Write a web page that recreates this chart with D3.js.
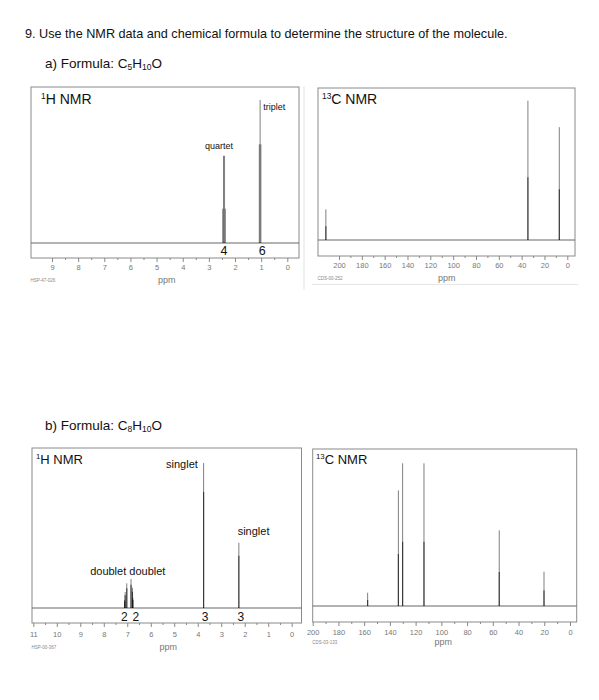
<!DOCTYPE html>
<html><head><meta charset="utf-8">
<script src="https://cdn.jsdelivr.net/npm/d3@7"></script>
<style>body{margin:0;background:#fff} svg{display:block;font-family:"Liberation Sans",Arial,sans-serif}</style>
</head><body><svg id="c" width="599" height="700"></svg>
<script>
// ---------- DATA ----------
// (a) 1H NMR, C5H10O
const hA_ppm = [2.47, 2.44, 2.40, 2.37, 1.07, 1.04, 1.01];
const hA_int = [24, 61, 61, 24, 69, 100, 69];
const hA_ticks = [9, 8, 7, 6, 5, 4, 3, 2, 1, 0];
const hA_integrals = ["4", "6"];
const hA_integralPpm = [2.42, 0.96];
const hA_mult = ["quartet", "triplet"];
const hA_multPpm = [2.61, 0.92];
const hA_multInt = [65.5, 93];
const hA_multAnchor = ["middle", "start"];

// (a) 13C NMR
const cA_ppm = [211.5, 34.5, 7.0];
const cA_int = [22, 100, 81];
const cA_ticks = [200, 180, 160, 140, 120, 100, 80, 60, 40, 20, 0];

// (b) 1H NMR, C8H10O
const hB_ppm = [7.11, 7.09, 7.02, 6.84, 6.78, 6.76, 3.75, 2.25];
const hB_int = [5.5, 11, 17, 20, 14, 7, 100, 45];
const hB_ticks = [11, 10, 9, 8, 7, 6, 5, 4, 3, 2, 1, 0];
const hB_integrals = ["2", "2", "3", "3"];
const hB_integralPpm = [7.12, 6.63, 3.69, 2.17];
const hB_mult = ["doublet doublet", "singlet", "singlet"];
const hB_multPpm = [8.58, 5.35, 2.30];
const hB_multInt = [22.5, 96.3, 50.3];

// (b) 13C NMR
const cB_ppm = [157.3, 133.4, 130.1, 113.5, 55.0, 20.2];
const cB_int = [9.3, 81, 100, 100, 53, 24];
const cB_ticks = [200, 180, 160, 140, 120, 100, 80, 60, 40, 20, 0];

// ---------- DRAW ----------
const svg = d3.select("#c");
const FRAME = "#8a8a8a", TICKC = "#888";

// Title
const title = svg.append("text").attr("x", 25).attr("y", 38)
  .attr("font-size", 13).attr("fill", "#111")
  .text("9. Use the NMR data and chemical formula to determine the structure of the molecule.");
const tl = title.node().getComputedTextLength();
title.attr("font-size", 13 * 483 / tl);

function formula(x, y, label, parts) {
  const t = svg.append("text").attr("x", x).attr("y", y).attr("font-size", 13.5).attr("fill", "#111");
  t.append("tspan").text(label);
  parts.forEach(p => {
    const s = t.append("tspan").text(p.t);
    if (p.sub) s.attr("font-size", 8.5).attr("dy", 2); else s.attr("dy", p.after ? -2 : 0);
  });
}
formula(45, 68, "a)  Formula: ", [{t: "C"}, {t: "5", sub: true}, {t: "H", after: true}, {t: "10", sub: true}, {t: "O", after: true}]);
formula(45, 430, "b)  Formula: ", [{t: "C"}, {t: "8", sub: true}, {t: "H", after: true}, {t: "10", sub: true}, {t: "O", after: true}]);

function panel(o) {
  const g = svg.append("g");
  const x = d3.scaleLinear().domain(o.domain).range(o.xr);
  const y = d3.scaleLinear().domain([0, 100]).range([o.base, o.peakTop]);
  // frame
  g.append("rect").attr("x", o.bx0).attr("y", o.top).attr("width", o.bx1 - o.bx0).attr("height", o.bottom - o.top)
    .attr("fill", "none").attr("stroke", FRAME).attr("stroke-width", 1);
  // baseline
  g.append("line").attr("x1", o.bx0).attr("x2", o.bx1).attr("y1", o.base).attr("y2", o.base)
    .attr("stroke", "#666").attr("stroke-width", 1);
  const pk = d3.zip(o.ppm, o.int);
  // peaks: thin grey full line
  g.selectAll("line.pk").data(pk).join("line").attr("class", "pk")
    .attr("x1", d => x(d[0])).attr("x2", d => x(d[0]))
    .attr("y1", y(0)).attr("y2", d => y(d[1]))
    .attr("stroke", "#000").attr("stroke-opacity", 0.5).attr("stroke-width", 1);
  // darker lower part
  if (o.lowFrac > 0) {
    g.selectAll("line.pkl").data(pk).join("line").attr("class", "pkl")
      .attr("x1", d => x(d[0])).attr("x2", d => x(d[0]))
      .attr("y1", y(0)).attr("y2", d => y(d[1] * o.lowFrac))
      .attr("stroke", "#000").attr("stroke-opacity", 0.6).attr("stroke-width", 1.2);
  }
  // ticks
  const minor = [];
  for (let i = 0; i < o.ticks.length - 1; i++) minor.push((o.ticks[i] + o.ticks[i + 1]) / 2);
  const ax = g.append("g").attr("transform", `translate(0,${o.bottom})`)
    .call(d3.axisBottom(x).tickValues(o.ticks).tickSize(4).tickPadding(o.tp).tickFormat(d3.format("d")));
  ax.select(".domain").remove();
  ax.selectAll("line").attr("stroke", TICKC);
  ax.selectAll("text").attr("fill", "#777").attr("font-size", o.tfs).attr("font-family", "Liberation Sans, Arial, sans-serif");
  const mx = g.append("g").attr("transform", `translate(0,${o.bottom})`)
    .call(d3.axisBottom(x).tickValues(minor).tickSize(2).tickFormat(""));
  mx.select(".domain").remove();
  mx.selectAll("line").attr("stroke", TICKC);
  // ppm label
  g.append("text").attr("x", o.ppmX).attr("y", o.ppmY).attr("text-anchor", "middle")
    .attr("font-size", 9).attr("fill", "#777").text("ppm");
  g.append("text").attr("x", o.bx0 - 0.5).attr("y", o.ppmY - 1).attr("font-size", 4.5).attr("fill", "#888").text(o.code);
  // panel title
  const t = g.append("text").attr("x", o.tx).attr("y", o.ty).attr("font-size", o.tsize).attr("fill", "#111");
  t.append("tspan").text(o.sup).attr("font-size", o.tsize * 0.6).attr("dy", -o.tsize * 0.35);
  t.append("tspan").text(o.nuc).attr("dy", o.tsize * 0.35);
  // integrals
  if (o.integrals) {
    g.selectAll("text.ig").data(d3.zip(o.integralPpm, o.integrals)).join("text").attr("class", "ig")
      .attr("x", d => x(d[0])).attr("y", o.igY).attr("text-anchor", "middle")
      .attr("font-size", o.igfs).attr("fill", "#111").text(d => d[1]);
  }
  if (o.mult) {
    g.selectAll("text.mu").data(o.mult.map((m, i) => [m, o.multPpm[i], o.multInt[i], o.multAnchor ? o.multAnchor[i] : "start"]))
      .join("text").attr("class", "mu")
      .attr("x", d => x(d[1])).attr("y", d => y(d[2])).attr("text-anchor", d => d[3])
      .attr("font-size", o.mfs).attr("fill", "#111").text(d => d[0]);
  }
}

// faint picture edges
svg.append("line").attr("x1", 304).attr("x2", 304).attr("y1", 86).attr("y2", 290).attr("stroke", "#e2e2e2");
svg.append("line").attr("x1", 312).attr("x2", 578).attr("y1", 284.5).attr("y2", 284.5).attr("stroke", "#e6e6e6");

panel({domain: [9, 0], xr: [52, 287.3], bx0: 31, bx1: 299, top: 87, base: 243, bottom: 258, peakTop: 100,
  ppm: hA_ppm, int: hA_int, ticks: hA_ticks, tp: 3, tfs: 7.5, ppmX: 166.7, ppmY: 282.5, code: "HSP-47-026",
  tx: 41, ty: 104, tsize: 14, sup: "1", nuc: "H NMR", lowFrac: 0,
  integrals: hA_integrals, integralPpm: hA_integralPpm, igY: 255, igfs: 12.5,
  mult: hA_mult, multPpm: hA_multPpm, multInt: hA_multInt, multAnchor: hA_multAnchor, mfs: 9});

panel({domain: [200, 0], xr: [339, 567.3], bx0: 318, bx1: 575, top: 88, base: 240, bottom: 256, peakTop: 100.7,
  ppm: cA_ppm, int: cA_int, ticks: cA_ticks, tp: 2.6, tfs: 7.5, ppmX: 446.7, ppmY: 280.5, code: "CDS-00-252",
  tx: 322, ty: 103.5, tsize: 14, sup: "13", nuc: "C NMR", lowFrac: 0.45});

panel({domain: [11, 0], xr: [33.3, 291.7], bx0: 32, bx1: 301.5, top: 448, base: 608, bottom: 623, peakTop: 463,
  ppm: hB_ppm, int: hB_int, ticks: hB_ticks, tp: 4.4, tfs: 7.5, ppmX: 168.3, ppmY: 650, code: "HSP-00-367",
  tx: 36, ty: 463.5, tsize: 13, sup: "1", nuc: "H NMR", lowFrac: 0.8,
  integrals: hB_integrals, integralPpm: hB_integralPpm, igY: 621, igfs: 12,
  mult: hB_mult, multPpm: hB_multPpm, multInt: hB_multInt, mfs: 11});

panel({domain: [200, 0], xr: [312.7, 570], bx0: 312.7, bx1: 576.7, top: 449, base: 606, bottom: 622, peakTop: 463.3,
  ppm: cB_ppm, int: cB_int, ticks: cB_ticks, tp: 3.3, tfs: 7.5, ppmX: 443.3, ppmY: 645, code: "CDS-03-133",
  tx: 316, ty: 464, tsize: 13, sup: "13", nuc: "C NMR", lowFrac: 0.45});
</script></body></html>
